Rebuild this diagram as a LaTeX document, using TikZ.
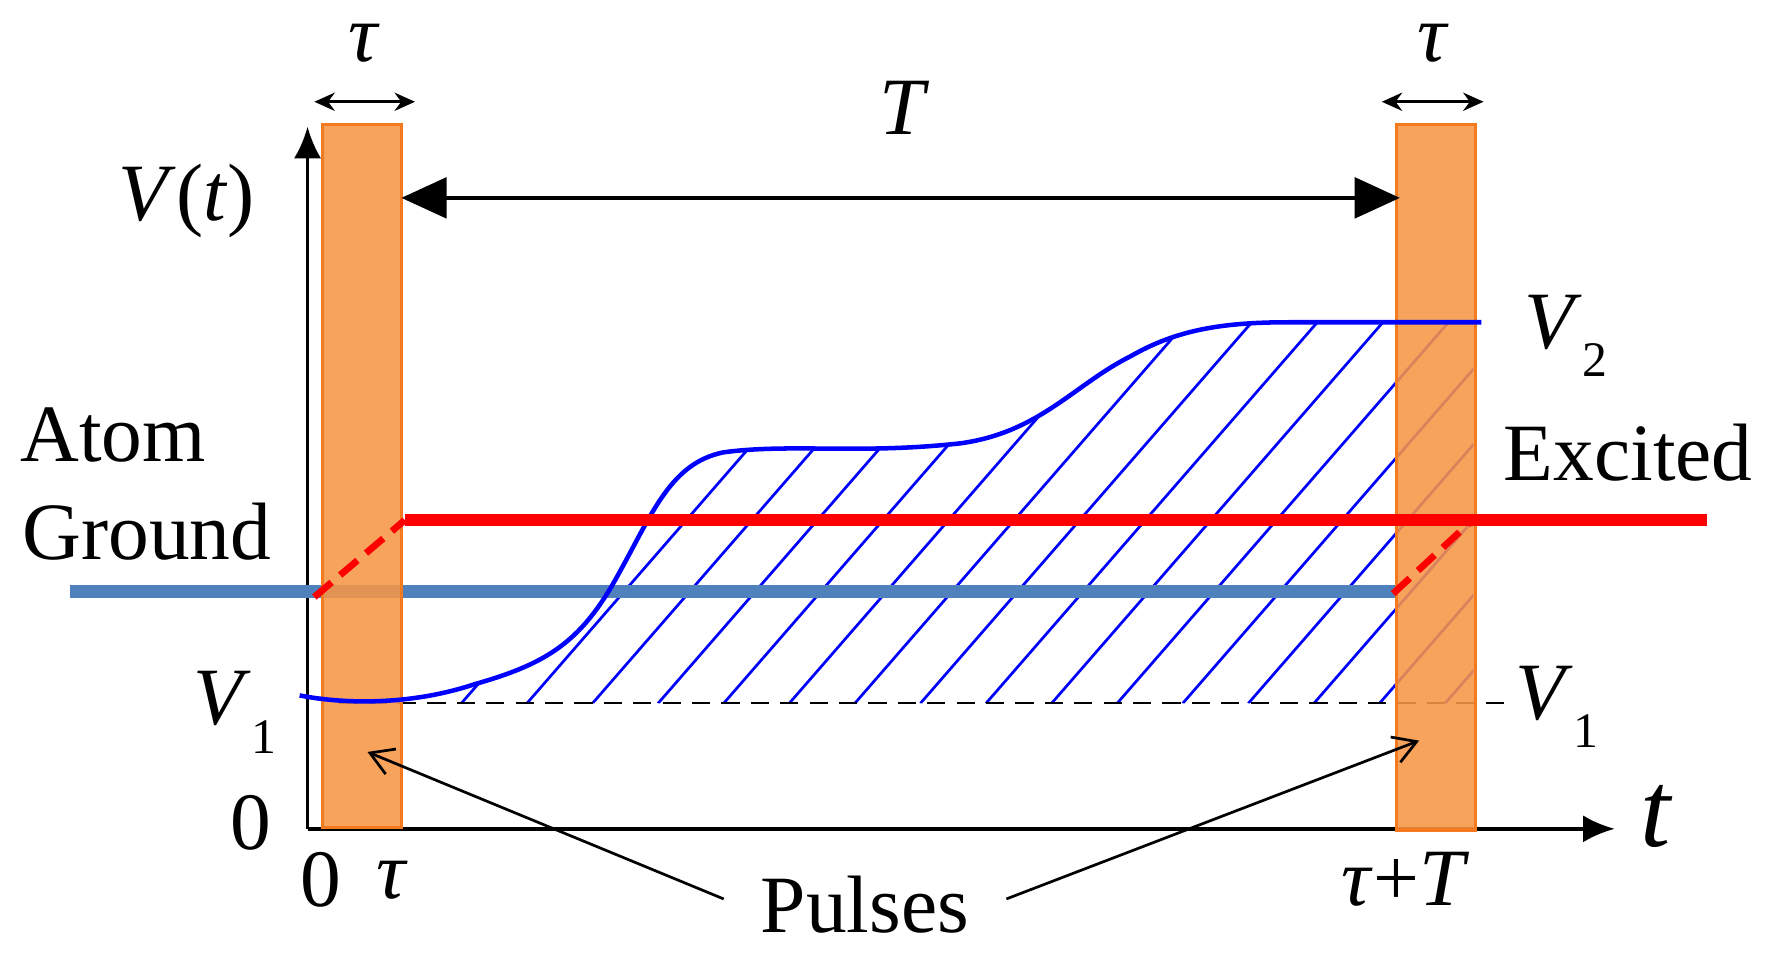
\documentclass[tikz,border=0pt]{standalone}
\usepackage{fontspec}
\setmainfont{Liberation Serif}
\usetikzlibrary{arrows.meta}
\definecolor{bar}{HTML}{F79646}
\definecolor{baredge}{HTML}{F47A20}
\definecolor{gnd}{HTML}{4F81BD}
\newcommand{\tx}[1]{\textit{#1}}
\newcommand{\sbs}[1]{\raisebox{-0.35em}{\fontsize{22}{24}\selectfont #1}}
\tikzset{big/.style={font=\fontsize{36}{40}\selectfont},
 pulse/.style={fill=bar,draw=baredge,line width=1.5pt,fill opacity=0.88},
 dimarr/.style={{Stealth[length=9pt,width=8pt]}-{Stealth[length=9pt,width=8pt]},line width=1.5pt},
 lbl/.style={-{Straight Barb[length=10pt,width=12pt]},line width=1.2pt}}
\begin{document}
\begin{tikzpicture}[x=0.5pt,y=-0.5pt]
\useasboundingbox (0,0) rectangle (1568,850);
\def\curve{(265,615) .. controls (300,622) and (360,625) .. (420,605) .. controls (480,588) and (510,570) .. (540,520) .. controls (575,460) and (590,410) .. (640,400) .. controls (700,392) and (760,402) .. (850,392) .. controls (920,382) and (950,340) .. (1000,315) .. controls (1040,292) and (1080,285) .. (1140,285) -- (1310,285)}
\begin{scope}
\clip \curve -- (1303,285) -- (1303,622) -- (265,622) -- cycle;
\foreach \k in {0,...,24}{
 \draw[blue,line width=1.2pt] ({350+58*\k},622) -- ++(400,-460);}
\end{scope}
\draw[line width=1.5pt,-{Latex[length=14pt,width=12pt]}] (272,733) -- (272,112);
\draw[line width=1.5pt,-{Latex[length=14pt,width=12pt]}] (272,733) -- (1428,733);
\draw[line width=1pt,dash pattern=on 8pt off 5pt] (300,622) -- (1330,622);
\draw[gnd,line width=6pt] (62,523) -- (1235,523);
\node[pulse,minimum width=35pt,minimum height=311pt,inner sep=0pt] (p1) at (320,421) {};
\node[pulse,minimum width=35pt,minimum height=312pt,inner sep=0pt] (p2) at (1270,422) {};
\draw[blue,line width=2pt] \curve;
\draw[red,line width=5pt] (358,460) -- (1510,460);
\draw[red,line width=3pt,dash pattern=on 10pt off 5pt] (278,528) -- (358,460);
\draw[red,line width=3pt,dash pattern=on 10pt off 5pt] (1232,525) -- (1300,462);
\coordinate (a1) at (278,90); \coordinate (a2) at (367,90);
\draw[dimarr] (a1) -- (a2);
\coordinate (b1) at (1222,90); \coordinate (b2) at (1312,90);
\draw[dimarr] (b1) -- (b2);
\coordinate (c1) at (355,175); \coordinate (c2) at (1238,175);
\draw[{Triangle[length=20pt,width=18pt]}-{Triangle[length=20pt,width=18pt]},line width=1.5pt] (c1) -- (c2);
\node[big] (tau1) at (322,38) {\tx{τ}};
\node[big] (tau2) at (1268,38) {\tx{τ}};
\node[big] (TT) at (800,95) {\tx{T}};
\node[big] (Vt) at (165,178) {\tx{V}(\tx{t})};
\node[big] (V2) at (1385,297) {\tx{V}\sbs{2}};
\node[big] (V1a) at (208,630) {\tx{V}\sbs{1}};
\node[big] (V1b) at (1377,625) {\tx{V}\sbs{1}};
\node[big] (z1) at (222,728) {0};
\node[big] (z2) at (284,778) {0};
\node[big] (tz) at (347,778) {\tx{τ}};
\node[big] (tT) at (1243,778) {\tx{τ}+\tx{T}};
\node[font=\fontsize{48}{50}\selectfont] (tt) at (1465,722) {\tx{t}};
\node[big] (atom) at (100,385) {Atom};
\node[big] (gr) at (130,470) {Ground};
\node[big] (ex) at (1440,400) {Excited};
\node[big] (pl) at (765,800) {Pulses};
\coordinate (e1) at (325,665); \coordinate (e2) at (1255,655);
\coordinate (s1) at (640,795); \coordinate (s2) at (890,795);
\draw[lbl] (s1) -- (e1);
\draw[lbl] (s2) -- (e2);
\end{tikzpicture}
\end{document}
